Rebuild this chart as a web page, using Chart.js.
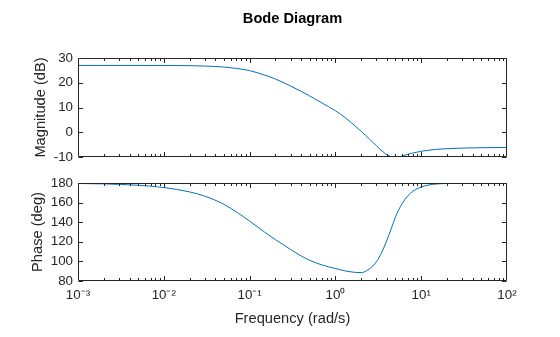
<!DOCTYPE html>
<html>
<head>
<meta charset="utf-8">
<script src="https://cdn.jsdelivr.net/npm/chart.js@4"></script>
<style>
  body { margin: 0; background: #fff; }
  .wrap { position: relative; width: 560px; height: 337px; }
  #mag { position: absolute; left: 0; top: 0; }
  #phase { position: absolute; left: 0; top: 170px; }
</style>
</head>
<body>
<div class="wrap">
  <canvas id="mag" width="560" height="170"></canvas>
  <canvas id="phase" width="560" height="167"></canvas>
</div>
<script>
// values
const freq = [0.001, 0.002, 0.005, 0.01, 0.02, 0.03, 0.05, 0.07, 0.1, 0.15, 0.2, 0.3, 0.4, 0.5, 0.7,
  1, 1.3, 1.7, 2, 2.5, 3, 3.5, 4, 4.5, 5, 5.5, 6, 7, 8, 10, 12, 15, 20, 30, 50, 100]
const magnitude = [27.0, 27.0, 27.0, 26.97, 26.9, 26.75, 26.35, 25.8, 24.9, 23.1, 21.5, 18.7, 16.5, 14.7, 11.8,
  8.7, 5.9, 2.5, 0.4, -2.8, -5.4, -7.6, -9.1, -9.9, -10.2, -10.0, -9.6, -8.9, -8.4, -7.7, -7.3, -6.9, -6.65, -6.4, -6.25, -6.15]
const phase = [179.5, 179.1, 177.7, 175.4, 170.9, 166.6, 158.3, 150.5, 141.2, 129.8, 122.2, 112.2, 105.5, 101.2, 96.3,
  92.8, 90.3, 88.8, 88.6, 92.5, 99.5, 110, 122, 134, 145, 153, 159, 167, 171.5, 176, 177.8, 179, 179.5, 179.8, 179.9, 180]

const magTicks = [-10, 0, 10, 20, 30]
const phaseTicks = [80, 100, 120, 140, 160, 180]
const freqTicks = [1e-3, 1e-2, 1e-1, 1, 10, 100]
const freqTickLabels = ['10⁻³', '10⁻²', '10⁻¹', '10⁰', '10¹', '10²']

const FONT = 'Arial, "Liberation Sans", Helvetica, sans-serif'
const AXIS_COLOR = '#262626'
const LINE_COLOR = '#0072BD'

// box around the axes with inward ticks on all four sides (MATLAB look)
const framePlugin = {
  id: 'frame',
  afterDatasetsDraw (chart, args, opts) {
    const { ctx, chartArea: a, scales: { x, y } } = chart
    const L = Math.round(a.left) + 0.5
    const R = Math.round(a.right) - 0.5
    const T = Math.round(a.top) + 0.5
    const B = Math.round(a.bottom) - 0.5
    ctx.save()
    ctx.strokeStyle = AXIS_COLOR
    ctx.lineWidth = 1
    ctx.beginPath()
    ctx.rect(L, T, R - L, B - T)
    for (let d = -3; d < 2; d++) {
      for (let k = 1; k <= 9; k++) {
        if (d === -3 && k === 1) continue
        const px = Math.round(x.getPixelForValue(k * Math.pow(10, d))) + 0.5
        const len = k === 1 ? 4.5 : 2.5
        ctx.moveTo(px, B); ctx.lineTo(px, B - len)
        ctx.moveTo(px, T); ctx.lineTo(px, T + len)
      }
    }
    opts.yTicks.forEach(v => {
      const py = Math.round(y.getPixelForValue(v)) + 0.5
      ctx.moveTo(L, py); ctx.lineTo(L + 4.5, py)
      ctx.moveTo(R, py); ctx.lineTo(R - 4.5, py)
    })
    ctx.stroke()
    ctx.restore()
  }
}

function yAxis (ticks, label, titleOffset) {
  return {
    type: 'linear',
    min: ticks[0],
    max: ticks[ticks.length - 1],
    afterBuildTicks: s => { s.ticks = ticks.map(v => ({ value: v })) },
    afterFit: s => { s.width = 78 },
    grid: { display: false, drawTicks: false },
    border: { display: false },
    ticks: {
      padding: 5,
      color: AXIS_COLOR,
      font: { family: FONT, size: 13.33 },
      callback: v => String(v)
    },
    title: {
      display: true,
      text: label,
      color: AXIS_COLOR,
      font: { family: FONT, size: 14.67 },
      padding: { top: titleOffset, bottom: 0 }
    }
  }
}

function lineData (values) {
  return {
    datasets: [{
      data: freq.map((f, i) => ({ x: f, y: values[i] })),
      borderColor: LINE_COLOR,
      borderWidth: 1,
      pointRadius: 0,
      cubicInterpolationMode: 'monotone',
      fill: false
    }]
  }
}

const magChart = new Chart(document.getElementById('mag'), {
  type: 'line',
  data: lineData(magnitude),
  plugins: [framePlugin],
  options: {
    responsive: false,
    animation: false,
    layout: { padding: { left: 0, right: 53, top: 0, bottom: 12 } },
    plugins: {
      legend: { display: false },
      tooltip: { enabled: false },
      title: {
        display: true,
        fullSize: false,
        text: 'Bode Diagram',
        color: '#000',
        font: { family: FONT, size: 14.67, weight: 'bold' },
        padding: { top: 10.3, bottom: 30.1 }
      },
      frame: { yTicks: magTicks }
    },
    scales: {
      x: {
        type: 'logarithmic',
        min: freqTicks[0],
        max: freqTicks[freqTicks.length - 1],
        afterFit: s => { s.height = 0 },
        grid: { display: false, drawTicks: false },
        border: { display: false },
        ticks: { display: false }
      },
      y: yAxis(magTicks, 'Magnitude (dB)', 32)
    }
  }
})

const phaseChart = new Chart(document.getElementById('phase'), {
  type: 'line',
  data: lineData(phase),
  plugins: [framePlugin],
  options: {
    responsive: false,
    animation: false,
    layout: { padding: { left: 0, right: 53, top: 12, bottom: 0 } },
    plugins: {
      legend: { display: false },
      tooltip: { enabled: false },
      frame: { yTicks: phaseTicks }
    },
    scales: {
      x: {
        type: 'logarithmic',
        min: freqTicks[0],
        max: freqTicks[freqTicks.length - 1],
        afterBuildTicks: s => { s.ticks = freqTicks.map(v => ({ value: v })) },
        afterFit: s => { s.height = 56 },
        grid: { display: false, drawTicks: false },
        border: { display: false },
        ticks: {
          autoSkip: false,
          maxRotation: 0,
          padding: 6,
          color: AXIS_COLOR,
          font: { family: FONT, size: 13.33 },
          callback: (v, i) => freqTickLabels[i]
        },
        title: {
          display: true,
          text: 'Frequency (rad/s)',
          color: AXIS_COLOR,
          font: { family: FONT, size: 14.67 },
          padding: { top: 0, bottom: 9 }
        }
      },
      y: yAxis(phaseTicks, 'Phase (deg)', 29)
    }
  }
})
</script>
</body>
</html>
